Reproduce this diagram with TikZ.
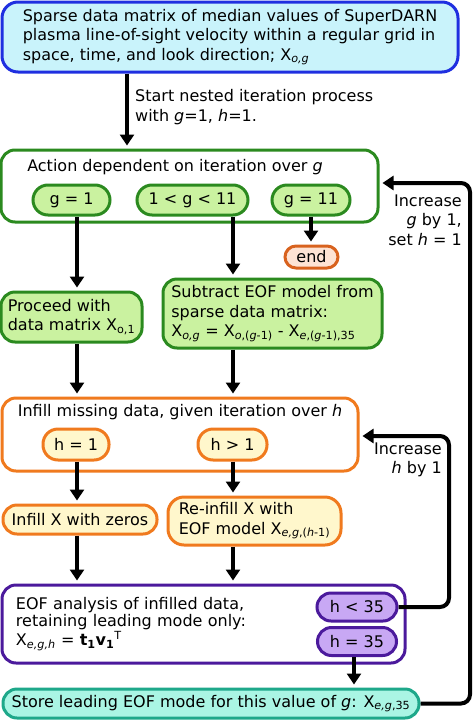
\documentclass[tikz,border=0pt]{standalone}
\usepackage{fontspec}
\setmainfont{DejaVu Sans}
\usepackage{xcolor}
\usetikzlibrary{arrows.meta,positioning,calc}

\definecolor{blueB}{HTML}{1F2FE0}
\definecolor{blueF}{HTML}{C9F3FB}
\definecolor{greenB}{HTML}{2B8A1F}
\definecolor{greenF}{HTML}{CAF2A0}
\definecolor{orangeB}{HTML}{F07A1E}
\definecolor{orangeF}{HTML}{FFF7CC}
\definecolor{endB}{HTML}{D8621E}
\definecolor{endF}{HTML}{FDE3D4}
\definecolor{purpleB}{HTML}{4B1A9C}
\definecolor{purpleF}{HTML}{C8A8F4}
\definecolor{tealB}{HTML}{1EA88A}
\definecolor{tealF}{HTML}{AAF5E4}

\begin{document}
\begin{tikzpicture}[x=1pt, y=-1pt,
  font=\fontsize{16}{19.5}\selectfont,
  box/.style={draw, line width=3pt, rounded corners=14pt, inner sep=0pt, align=left},
  pill/.style={draw, line width=3pt, inner sep=0pt},
  gpill/.style={pill, draw=greenB, fill=greenF, minimum height=30pt, rounded corners=15pt},
  hpill/.style={pill, draw=orangeB, fill=orangeF, minimum height=31pt, rounded corners=15pt},
  ppill/.style={pill, draw=purpleB, fill=purpleF, minimum height=28pt, rounded corners=14pt},
  flow/.style={-{Triangle[length=11pt,width=14pt]}, line width=4pt, shorten >=3pt},
  loop/.style={flow, rounded corners=9pt}
]
\useasboundingbox (0,0) rectangle (474,721);
\coordinate (colS) at (127,0);
\coordinate (colA) at (77,0);
\coordinate (colB) at (233,0);
\coordinate (colC) at (354,0);
\coordinate (gturn) at (470,183);
\coordinate (hturn) at (449,436);

% input data
\node[box, draw=blueB, fill=blueF, minimum width=456pt, minimum height=70pt, rounded corners=16pt] (sparse) at (230,37)
  {Sparse data matrix of median values of SuperDARN\\plasma line-of-sight velocity within a regular grid in\\space, time, and look direction; X\textsubscript{\textit{o,g}}};
\node[inner sep=0pt, align=left, anchor=west] (start) at (135,107)
  {Start nested iteration process\\with \textit{g}=1, \textit{h}=1.};

% iteration over g
\node[box, draw=greenB, minimum width=377pt, minimum height=72pt] (gloop) at (189.5,186) {};
\node (gtitle) at (175,167) {Action dependent on iteration over \textit{g}};
\node[gpill, minimum width=77pt] (g1) at (71.5,200) {g = 1};
\node[gpill, minimum width=111pt] (gmid) at (192.5,200) {1 < g < 11};
\node[gpill, minimum width=78pt] (g11) at (311,200) {g = 11};
\node[pill, draw=endB, fill=endF, minimum width=53pt, minimum height=22pt, rounded corners=11pt] (finish) at (311.5,257) {end};
\node[box, draw=greenB, fill=greenF, minimum width=141pt, minimum height=50pt] (proceed) at (71.5,317)
  {Proceed with\\data matrix X\textsubscript{o,1}};
\node[box, draw=greenB, fill=greenF, minimum width=219pt, minimum height=69pt] (subtract) at (272.5,313.5)
  {Subtract EOF model from\\sparse data matrix:\\X\textsubscript{\textit{o,g}} = X\textsubscript{\textit{o},(\textit{g}-1)} - X\textsubscript{\textit{e},(\textit{g}-1),35}};

% iteration over h
\node[box, draw=orangeB, minimum width=356pt, minimum height=73pt] (hloop) at (180,434.5) {};
\node (htitle) at (180,412) {Infill missing data, given iteration over \textit{h}};
\node[hpill, minimum width=66pt] (h1) at (76,444.5) {h = 1};
\node[hpill, minimum width=69pt] (hgt1) at (232.5,444.5) {h > 1};
\node[box, draw=orangeB, fill=orangeF, minimum width=154pt, minimum height=29pt] (zeros) at (80,519.5) {Infill X with zeros};
\node[box, draw=orangeB, fill=orangeF, minimum width=173pt, minimum height=48pt, rounded corners=16pt] (reinfill) at (254.5,521)
  {Re-infill X with\\EOF model X\textsubscript{\textit{e,g},(\textit{h}-1)}};

% EOF analysis
\node[box, draw=purpleB, minimum width=403pt, minimum height=78pt, text width=375pt, inner xsep=14pt,
  font=\fontsize{16}{17}\selectfont] (eof) at (203.5,624)
  {EOF analysis of infilled data,\\retaining leading mode only:\\X\textsubscript{\textit{e,g,h}} = \textbf{t\textsubscript{1}v\textsubscript{1}}\textsuperscript{T}};
\node[ppill, minimum width=80pt] (hlt35) at (357,607) {h < 35};
\node[ppill, minimum width=79pt] (heq35) at (357,641.5) {h = 35};
\node[box, draw=tealB, fill=tealF, minimum width=416pt, minimum height=29pt] (store) at (211,703.5)
  {Store leading EOF mode for this value of \textit{g}: X\textsubscript{\textit{e,g},35}};

% loop labels
\node[inner sep=0pt, align=right, anchor=east] (incg) at (462,220)
  {Increase\\\textit{g} by 1,\\set \textit{h} = 1};
\node[inner sep=0pt, align=right, anchor=east] (inch) at (442,460)
  {Increase\\\textit{h} by 1};

% connectors
\draw[flow] (sparse.south -| colS) -- (gloop.north -| colS);
\draw[flow] (g1.south -| colA) -- (proceed.north -| colA);
\draw[flow] (gmid.south -| colB) -- (subtract.north -| colB);
\draw[flow] (g11.south) -- (g11.south |- finish.north);
\draw[flow] (proceed.south -| colA) -- (hloop.north -| colA);
\draw[flow] (subtract.south -| colB) -- (hloop.north -| colB);
\draw[flow] (h1.south -| colA) -- (zeros.north -| colA);
\draw[flow] (hgt1.south -| colB) -- (reinfill.north -| colB);
\draw[flow] (zeros.south -| colA) -- (eof.north -| colA);
\draw[flow] (reinfill.south -| colB) -- (eof.north -| colB);
\draw[flow] (heq35.south -| colC) -- (store.north -| colC);
\draw[loop] (store.east) -| (gturn) -- (gloop.east |- gturn);
\draw[loop] (hlt35.east) -| (hturn) -- (hloop.east |- hturn);
\end{tikzpicture}
\end{document}
